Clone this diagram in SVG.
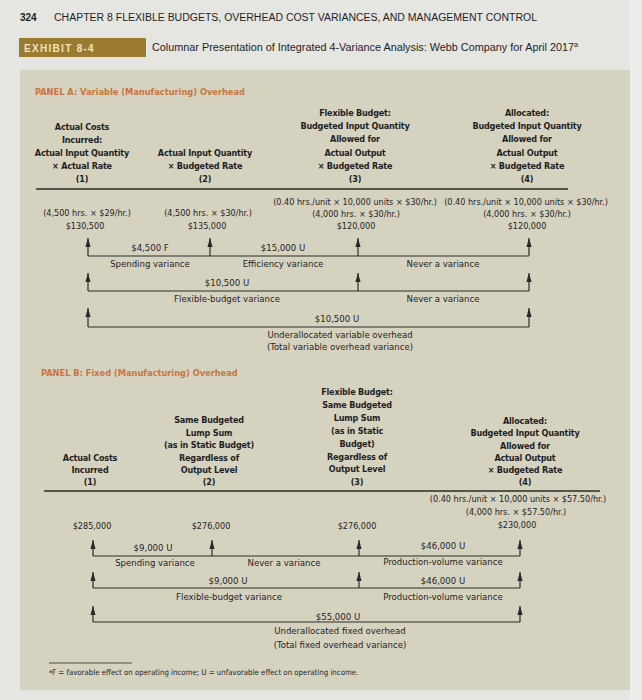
<svg xmlns="http://www.w3.org/2000/svg" width="642" height="700" viewBox="0 0 642 700">
<defs>
<marker id="ah" viewBox="0 -2.6 9 5.2" refX="9" refY="0" markerWidth="9" markerHeight="5.2" markerUnits="userSpaceOnUse" orient="auto">
<path d="M0,-2.6 L9,0 L0,2.6 z" fill="#2a2a2a"/>
</marker>
<style>
text{font-family:"DejaVu Sans Condensed","DejaVu Sans","Liberation Sans",sans-serif;font-stretch:condensed;fill:#1f1f1f;}
.h{font-weight:bold;font-size:9px;letter-spacing:-0.2px;text-anchor:middle;}
.d{font-size:9px;text-anchor:middle;}
.l{font-size:9.5px;text-anchor:middle;}
.p{font-weight:bold;font-size:9.2px;fill:#c8763e;}
.ln{stroke:#2a2a2a;stroke-width:1.2;fill:none;}
.ar{stroke:#2a2a2a;stroke-width:1.2;fill:none;marker-end:url(#ah);}
.rule{stroke:#2a2a2a;stroke-width:1.3;}
</style>
</defs>
<rect x="0" y="0" width="642" height="700" fill="#e5e5e2"/>
<rect x="20" y="70" width="610" height="620" fill="#d6d2c0"/>
<rect x="630" y="0" width="12" height="700" fill="#ededeb"/>

<g id="page-header">
<text x="20" y="21" style="font-family:'Liberation Sans',sans-serif;font-weight:bold;font-size:10px;">324</text>
<text x="54" y="21" textLength="483" lengthAdjust="spacingAndGlyphs" style="font-family:'Liberation Sans',sans-serif;font-size:10px;">CHAPTER 8  FLEXIBLE BUDGETS, OVERHEAD COST VARIANCES, AND MANAGEMENT CONTROL</text>
</g>
<g id="exhibit">
<rect x="19" y="38" width="127" height="19" fill="#9b7b30"/>
<text x="24" y="51.5" style="font-family:'Liberation Sans',sans-serif;font-weight:bold;font-size:10px;letter-spacing:1.3px;fill:#efe3c2;">EXHIBIT 8-4</text>
<text x="152" y="51" textLength="426" lengthAdjust="spacingAndGlyphs" style="font-family:'Liberation Sans',sans-serif;font-size:10.5px;">Columnar Presentation of Integrated 4-Variance Analysis: Webb Company for April 2017<tspan dy="-4" style="font-size:7px;">a</tspan></text>
</g>

<g id="panel-a-title"><text class="p" x="35" y="94.5">PANEL A: Variable (Manufacturing) Overhead</text></g>

<g id="a-col1">
<text class="h" x="82" y="129.5">Actual Costs</text>
<text class="h" x="82" y="142.5">Incurred:</text>
<text class="h" x="82" y="155.5">Actual Input Quantity</text>
<text class="h" x="82" y="168.5">× Actual Rate</text>
<text class="h" x="82" y="182">(1)</text>
<text class="d" x="87" y="216">(4,500 hrs. × $29/hr.)</text>
<text class="d" x="85" y="229">$130,500</text>
</g>
<g id="a-col2">
<text class="h" x="205" y="155.5">Actual Input Quantity</text>
<text class="h" x="205" y="168.5">× Budgeted Rate</text>
<text class="h" x="205" y="182">(2)</text>
<text class="d" x="208" y="216">(4,500 hrs. × $30/hr.)</text>
<text class="d" x="207" y="229">$135,000</text>
</g>
<g id="a-col3">
<text class="h" x="355" y="116">Flexible Budget:</text>
<text class="h" x="355" y="129">Budgeted Input Quantity</text>
<text class="h" x="355" y="142">Allowed for</text>
<text class="h" x="355" y="155.5">Actual Output</text>
<text class="h" x="355" y="168.5">× Budgeted Rate</text>
<text class="h" x="355" y="182">(3)</text>
<text class="d" x="355" y="205">(0.40 hrs./unit × 10,000 units × $30/hr.)</text>
<text class="d" x="356" y="216.5">(4,000 hrs. × $30/hr.)</text>
<text class="d" x="356" y="229">$120,000</text>
</g>
<g id="a-col4">
<text class="h" x="527" y="116">Allocated:</text>
<text class="h" x="527" y="129">Budgeted Input Quantity</text>
<text class="h" x="527" y="142">Allowed for</text>
<text class="h" x="527" y="155.5">Actual Output</text>
<text class="h" x="527" y="168.5">× Budgeted Rate</text>
<text class="h" x="527" y="182">(4)</text>
<text class="d" x="526" y="205">(0.40 hrs./unit × 10,000 units × $30/hr.)</text>
<text class="d" x="527" y="216.5">(4,000 hrs. × $30/hr.)</text>
<text class="d" x="527" y="229">$120,000</text>
</g>

<g id="a-variances">
<text class="l" x="150" y="251">$4,500 F</text>
<text class="l" x="150" y="267">Spending variance</text>
<text class="l" x="283" y="251">$15,000 U</text>
<text class="l" x="283" y="267">Efficiency variance</text>
<text class="l" x="443" y="267">Never a variance</text>
<text class="l" x="227" y="286">$10,500 U</text>
<text class="l" x="227" y="302">Flexible-budget variance</text>
<text class="l" x="443" y="302">Never a variance</text>
<text class="l" x="337" y="322">$10,500 U</text>
<text class="l" x="340" y="337.5">Underallocated variable overhead</text>
<text class="l" x="340" y="350">(Total variable overhead variance)</text>
</g>

<g id="panel-b-title"><text class="p" x="41" y="376">PANEL B: Fixed (Manufacturing) Overhead</text></g>

<g id="b-col1">
<text class="h" x="90" y="461">Actual Costs</text>
<text class="h" x="90" y="473">Incurred</text>
<text class="h" x="90" y="485">(1)</text>
<text class="d" x="92" y="529">$285,000</text>
</g>
<g id="b-col2">
<text class="h" x="209" y="423">Same Budgeted</text>
<text class="h" x="209" y="435.5">Lump Sum</text>
<text class="h" x="209" y="448">(as in Static Budget)</text>
<text class="h" x="209" y="460.5">Regardless of</text>
<text class="h" x="209" y="473">Output Level</text>
<text class="h" x="209" y="485">(2)</text>
<text class="d" x="211" y="529">$276,000</text>
</g>
<g id="b-col3">
<text class="h" x="357" y="395">Flexible Budget:</text>
<text class="h" x="357" y="408">Same Budgeted</text>
<text class="h" x="357" y="421">Lump Sum</text>
<text class="h" x="357" y="434">(as in Static</text>
<text class="h" x="357" y="446.5">Budget)</text>
<text class="h" x="357" y="459.5">Regardless of</text>
<text class="h" x="357" y="472">Output Level</text>
<text class="h" x="357" y="485">(3)</text>
<text class="d" x="357" y="529">$276,000</text>
</g>
<g id="b-col4">
<text class="h" x="525" y="424">Allocated:</text>
<text class="h" x="525" y="436">Budgeted Input Quantity</text>
<text class="h" x="525" y="448.5">Allowed for</text>
<text class="h" x="525" y="461">Actual Output</text>
<text class="h" x="525" y="473">× Budgeted Rate</text>
<text class="h" x="525" y="485">(4)</text>
<text class="d" x="518" y="502">(0.40 hrs./unit × 10,000 units × $57.50/hr.)</text>
<text class="d" x="516" y="514.5">(4,000 hrs. × $57.50/hr.)</text>
<text class="d" x="517" y="528">$230,000</text>
</g>

<g id="b-variances">
<text class="l" x="153" y="551">$9,000 U</text>
<text class="l" x="155" y="566">Spending variance</text>
<text class="l" x="284" y="566">Never a variance</text>
<text class="l" x="443" y="549">$46,000 U</text>
<text class="l" x="443" y="565">Production-volume variance</text>
<text class="l" x="228" y="584">$9,000 U</text>
<text class="l" x="229" y="600">Flexible-budget variance</text>
<text class="l" x="443" y="584">$46,000 U</text>
<text class="l" x="443" y="600">Production-volume variance</text>
<text class="l" x="338" y="620">$55,000 U</text>
<text class="l" x="340" y="634">Underallocated fixed overhead</text>
<text class="l" x="340" y="648">(Total fixed overhead variance)</text>
</g>

<g id="footnote">
<line x1="49" y1="663" x2="132" y2="663" stroke="#2a2a2a" stroke-width="0.8"/>
<text x="49" y="675" style="font-size:7.8px;"><tspan dy="-2" style="font-size:5.5px;">a</tspan><tspan dy="2">F = favorable effect on operating income; U = unfavorable effect on operating income.</tspan></text>
</g>

<g id="connectors">
<line class="rule" x1="36" y1="189" x2="568" y2="189"/>
<line class="rule" x1="44" y1="491" x2="600" y2="491"/>
<path class="ln" d="M88,256 H529"/>
<path class="ar" d="M88,256 V238"/>
<path class="ar" d="M210,256 V238"/>
<path class="ar" d="M358,256 V238"/>
<path class="ar" d="M529,256 V238"/>
<path class="ln" d="M88,291 H529"/>
<path class="ar" d="M88,291 V273"/>
<path class="ar" d="M358,291 V273"/>
<path class="ar" d="M529,291 V273"/>
<path class="ln" d="M88,327 H529"/>
<path class="ar" d="M88,327 V308"/>
<path class="ar" d="M529,327 V308"/>
<path class="ln" d="M93,556 H520"/>
<path class="ar" d="M93,556 V540"/>
<path class="ar" d="M212,556 V540"/>
<path class="ar" d="M359,556 V540"/>
<path class="ar" d="M520,556 V540"/>
<path class="ln" d="M93,588 H520"/>
<path class="ar" d="M93,588 V572"/>
<path class="ar" d="M359,588 V572"/>
<path class="ar" d="M520,588 V572"/>
<path class="ln" d="M93,622 H520"/>
<path class="ar" d="M93,622 V606"/>
<path class="ar" d="M520,622 V606"/>
</g>
</svg>
